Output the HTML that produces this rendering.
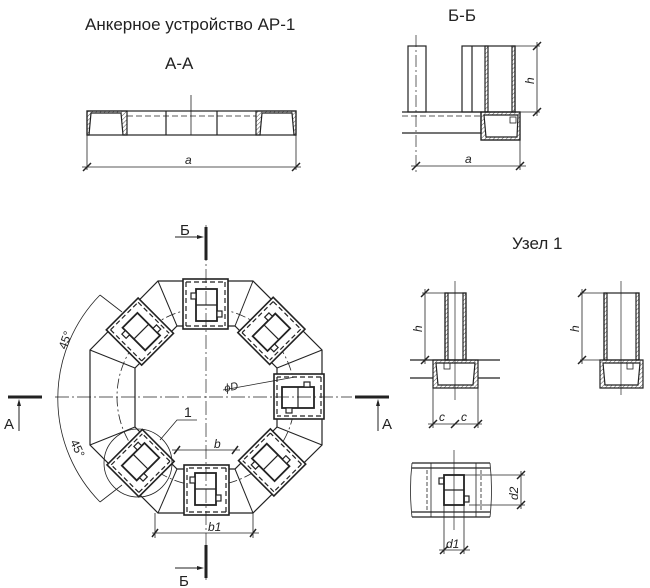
<!DOCTYPE html>
<html><head><meta charset="utf-8"><style>body{margin:0;background:#fff}svg{display:block}</style></head><body>
<svg width="650" height="588" viewBox="0 0 650 588" xmlns="http://www.w3.org/2000/svg" font-family="Liberation Sans, DejaVu Sans, sans-serif" fill="none" stroke="#222" stroke-width="1.2">
<defs>
<pattern id="h" width="3" height="3" patternUnits="userSpaceOnUse" patternTransform="rotate(45)"><line x1="0" y1="0" x2="0" y2="3" stroke="#555" stroke-width="1"/></pattern>
<g id="plate">
<rect x="183" y="279" width="45" height="50" stroke-width="1.6"/>
<line x1="186" y1="282" x2="186" y2="326" stroke-dasharray="5,3"/>
<line x1="225" y1="282" x2="225" y2="326" stroke-dasharray="5,3"/>
<line x1="186" y1="282" x2="225" y2="282" stroke-dasharray="5,3"/>
<line x1="186" y1="326" x2="225" y2="326" stroke-dasharray="5,3"/>
<rect x="196" y="289" width="21" height="32" stroke-width="1.8"/>
<line x1="196" y1="305" x2="217" y2="305"/>
<rect x="191" y="293" width="5" height="6"/>
<rect x="217" y="311" width="5" height="6"/>
</g>
</defs>
<g fill="#222" stroke="none">
<text x="85" y="30" font-size="17">Анкерное устройство АР-1</text>
<text x="165" y="69" font-size="17">А-А</text>
<text x="448" y="21" font-size="17">Б-Б</text>
<text x="512" y="249" font-size="17">Узел 1</text>
</g>
<!-- A-A section -->
<rect x="87" y="111" width="209" height="24"/>
<path d="M87 111h40v24h-4l-2-22h-30l-2 22h-2z" fill="url(#h)"/>
<path d="M256 111h40v24h-2l-2-22h-30l-2 22h-4z" fill="url(#h)"/>
<line x1="166" y1="111" x2="166" y2="135"/><line x1="217" y1="111" x2="217" y2="135"/>
<line x1="127" y1="116" x2="256" y2="116" stroke-dasharray="6,3" stroke-width="0.8"/>
<line x1="191" y1="95" x2="191" y2="135" stroke-width="0.8"/>
<g stroke-width="0.8"><line x1="87" y1="135" x2="87" y2="170"/><line x1="296" y1="135" x2="296" y2="170"/><line x1="82" y1="167" x2="301" y2="167"/></g>
<line x1="83" y1="171" x2="91" y2="163" stroke-width="1.5"/><line x1="292" y1="171" x2="300" y2="163" stroke-width="1.5"/>
<text x="185" y="164" font-size="12" font-style="italic" fill="#222" stroke="none">a</text>
<!-- Б-Б -->
<rect x="408" y="46" width="18" height="66"/>
<rect x="462" y="46" width="53" height="66"/>
<line x1="472" y1="46" x2="472" y2="112"/>
<rect x="485" y="46" width="3" height="66" fill="url(#h)"/><rect x="512" y="46" width="3" height="66" fill="url(#h)"/>
<path d="M402 112h79v21h-79"/>
<line x1="402" y1="116" x2="481" y2="116" stroke-dasharray="6,3" stroke-width="0.8"/>
<rect x="481" y="112" width="39" height="28"/>
<path d="M481 112h39v28h-39z M484 115l2 22h31l1-22z" fill="url(#h)" fill-rule="evenodd"/>
<rect x="510" y="117" width="6" height="6" stroke-width="0.8"/>
<line x1="416" y1="35" x2="416" y2="172" stroke-width="0.7" stroke-dasharray="12,3,2,3"/>
<g stroke-width="0.8"><line x1="515" y1="46" x2="540" y2="46"/><line x1="520" y1="112" x2="540" y2="112"/><line x1="537" y1="42" x2="537" y2="116"/><line x1="520" y1="140" x2="520" y2="170"/><line x1="411" y1="166" x2="526" y2="166"/></g>
<g stroke-width="1.5"><line x1="533" y1="50" x2="541" y2="42"/><line x1="533" y1="116" x2="541" y2="108"/><line x1="412" y1="170" x2="420" y2="162"/><line x1="516" y1="170" x2="524" y2="162"/></g>
<text x="0" y="0" font-size="12" font-style="italic" fill="#222" stroke="none" transform="translate(534 84) rotate(-90)">h</text>
<text x="465" y="163" font-size="12" font-style="italic" fill="#222" stroke="none">a</text>
<!-- octagon plan -->
<polygon points="158,281 253,281 322,350 322,445 253,513 158,513 90,445 90,350"/>
<polygon points="177,326 235,326 277,368 277,427 235,469 177,469 135,427 135,368"/>
<g stroke-width="1"><line x1="158" y1="281" x2="177" y2="326"/><line x1="253" y1="281" x2="235" y2="326"/><line x1="322" y1="350" x2="277" y2="368"/><line x1="322" y1="445" x2="277" y2="427"/><line x1="253" y1="513" x2="235" y2="469"/><line x1="158" y1="513" x2="177" y2="469"/><line x1="90" y1="445" x2="135" y2="427"/><line x1="90" y1="350" x2="135" y2="368"/></g>
<circle cx="206" cy="397" r="89" stroke-width="0.8" stroke-dasharray="10,3,2,3"/>
<g fill="#fff">
<use href="#plate"/>
<use href="#plate" transform="rotate(45 206 397)"/>
<use href="#plate" transform="rotate(90 206 397)"/>
<use href="#plate" transform="rotate(135 206 397)"/>
<use href="#plate" transform="rotate(180 206 397)"/>
<use href="#plate" transform="rotate(225 206 397)"/>
<use href="#plate" transform="rotate(315 206 397)"/>
</g>
<line x1="55" y1="397" x2="352" y2="397" stroke-width="0.7" stroke-dasharray="14,3,2,3"/>
<line x1="206" y1="225" x2="206" y2="580" stroke-width="0.7" stroke-dasharray="14,3,2,3"/>
<g stroke-width="3"><line x1="8" y1="397" x2="42" y2="397"/><line x1="355" y1="397" x2="389" y2="397"/><line x1="206" y1="227" x2="206" y2="260"/><line x1="206" y1="545" x2="206" y2="578"/></g>
<g stroke-width="1"><line x1="19" y1="431" x2="19" y2="402"/><line x1="378" y1="431" x2="378" y2="402"/><line x1="175" y1="237" x2="200" y2="237"/><line x1="175" y1="568" x2="200" y2="568"/></g>
<g fill="#222" stroke="none"><path d="M19 399l-2 7h4z"/><path d="M378 399l-2 7h4z"/><path d="M204 237l-7-2v4z"/><path d="M204 568l-7-2v4z"/>
<text x="4" y="429" font-size="15">А</text><text x="382" y="429" font-size="15">А</text><text x="180" y="235" font-size="15">Б</text><text x="179" y="586" font-size="15">Б</text></g>
<!-- 45 arcs -->
<path d="M100 295 A148 148 0 0 0 100 502" stroke-width="0.8"/>
<g stroke-width="0.8"><line x1="100" y1="295" x2="122" y2="312"/><line x1="100" y1="502" x2="122" y2="485"/></g>
<text font-size="12" fill="#222" stroke="none" transform="translate(66 350) rotate(-70)">45°</text>
<text font-size="12" fill="#222" stroke="none" transform="translate(70 442) rotate(65)">45°</text>
<line x1="223" y1="390" x2="295" y2="377" stroke-width="0.8"/>
<text font-size="11" font-style="italic" fill="#222" stroke="none" transform="translate(225 392) rotate(-12)">ϕD</text>
<circle cx="138" cy="463" r="34" stroke-width="0.8"/>
<polyline points="160,440 177,420 197,420" stroke-width="0.8"/>
<text x="184" y="417" font-size="14" fill="#222" stroke="none">1</text>
<g stroke-width="0.8"><line x1="172" y1="450" x2="240" y2="450"/><line x1="152" y1="533" x2="259" y2="533"/><line x1="155" y1="513" x2="155" y2="538"/><line x1="253" y1="513" x2="253" y2="538"/></g>
<g stroke-width="1.5"><line x1="174" y1="454" x2="180" y2="446"/><line x1="232" y1="454" x2="238" y2="446"/><line x1="152" y1="537" x2="158" y2="529"/><line x1="250" y1="537" x2="256" y2="529"/></g>
<text x="214" y="448" font-size="12" font-style="italic" fill="#222" stroke="none">b</text>
<text x="208" y="531" font-size="12" font-style="italic" fill="#222" stroke="none">b1</text>
<!-- node left -->
<rect x="445" y="293" width="21" height="67"/>
<rect x="445" y="293" width="3" height="67" fill="url(#h)"/><rect x="463" y="293" width="3" height="67" fill="url(#h)"/>
<path d="M410 360h90M410 378h23M478 378h22"/>
<path d="M433 360h45v28h-45z M436 363l2 22h35l2-22z" fill="url(#h)" fill-rule="evenodd"/>
<rect x="444" y="363" width="6" height="6" stroke-width="0.8"/>
<line x1="455" y1="281" x2="455" y2="400" stroke-width="0.7"/>
<g stroke-width="0.8"><line x1="422" y1="293" x2="445" y2="293"/><line x1="422" y1="360" x2="433" y2="360"/><line x1="425" y1="289" x2="425" y2="364"/><line x1="433" y1="388" x2="433" y2="428"/><line x1="478" y1="388" x2="478" y2="428"/><line x1="428" y1="424" x2="482" y2="424"/></g>
<g stroke-width="1.5"><line x1="421" y1="297" x2="429" y2="289"/><line x1="421" y1="364" x2="429" y2="356"/><line x1="429" y1="428" x2="437" y2="420"/><line x1="451" y1="428" x2="459" y2="420"/><line x1="474" y1="428" x2="482" y2="420"/></g>
<text font-size="12" font-style="italic" fill="#222" stroke="none" transform="translate(422 332) rotate(-90)">h</text>
<text x="439" y="421" font-size="12" font-style="italic" fill="#222" stroke="none">c</text>
<text x="461" y="421" font-size="12" font-style="italic" fill="#222" stroke="none">c</text>
<!-- node right -->
<rect x="604" y="293" width="35" height="67"/>
<rect x="604" y="293" width="3" height="67" fill="url(#h)"/><rect x="636" y="293" width="3" height="67" fill="url(#h)"/>
<path d="M600 360h43v28h-43z M603 363l2 22h33l2-22z" fill="url(#h)" fill-rule="evenodd"/>
<rect x="627" y="363" width="6" height="6" stroke-width="0.8"/>
<line x1="621" y1="281" x2="621" y2="395" stroke-width="0.7"/>
<g stroke-width="0.8"><line x1="580" y1="293" x2="604" y2="293"/><line x1="580" y1="360" x2="600" y2="360"/><line x1="582" y1="289" x2="582" y2="364"/></g>
<g stroke-width="1.5"><line x1="578" y1="297" x2="586" y2="289"/><line x1="578" y1="364" x2="586" y2="356"/></g>
<text font-size="12" font-style="italic" fill="#222" stroke="none" transform="translate(579 332) rotate(-90)">h</text>
<!-- node bottom -->
<path d="M412 463h78M412 517h78M412 468h78M412 512h78"/>
<path d="M412 463q-3 27 0 54M490 463q3 27 0 54" stroke-width="0.8"/>
<g stroke-width="0.8"><line x1="431" y1="463" x2="431" y2="517"/><line x1="476" y1="463" x2="476" y2="517"/><line x1="427" y1="470" x2="427" y2="510" stroke-dasharray="4,2"/><line x1="481" y1="470" x2="481" y2="510" stroke-dasharray="4,2"/></g>
<rect x="444" y="475" width="20" height="30" stroke-width="1.8"/>
<line x1="444" y1="490" x2="464" y2="490"/>
<rect x="439" y="478" width="5" height="6"/><rect x="464" y="496" width="5" height="6"/>
<line x1="454" y1="450" x2="454" y2="530" stroke-width="0.7"/>
<g stroke-width="0.8"><line x1="464" y1="475" x2="525" y2="475"/><line x1="469" y1="505" x2="525" y2="505"/><line x1="521" y1="471" x2="521" y2="509"/><line x1="444" y1="505" x2="444" y2="554"/><line x1="464" y1="505" x2="464" y2="554"/><line x1="439" y1="550" x2="470" y2="550"/></g>
<g stroke-width="1.5"><line x1="517" y1="479" x2="525" y2="471"/><line x1="517" y1="509" x2="525" y2="501"/><line x1="440" y1="554" x2="448" y2="546"/><line x1="460" y1="554" x2="468" y2="546"/></g>
<text font-size="12" font-style="italic" fill="#222" stroke="none" transform="translate(518 500) rotate(-90)">d2</text>
<text x="446" y="548" font-size="12" font-style="italic" fill="#222" stroke="none">d1</text>
</svg>
</body></html>
